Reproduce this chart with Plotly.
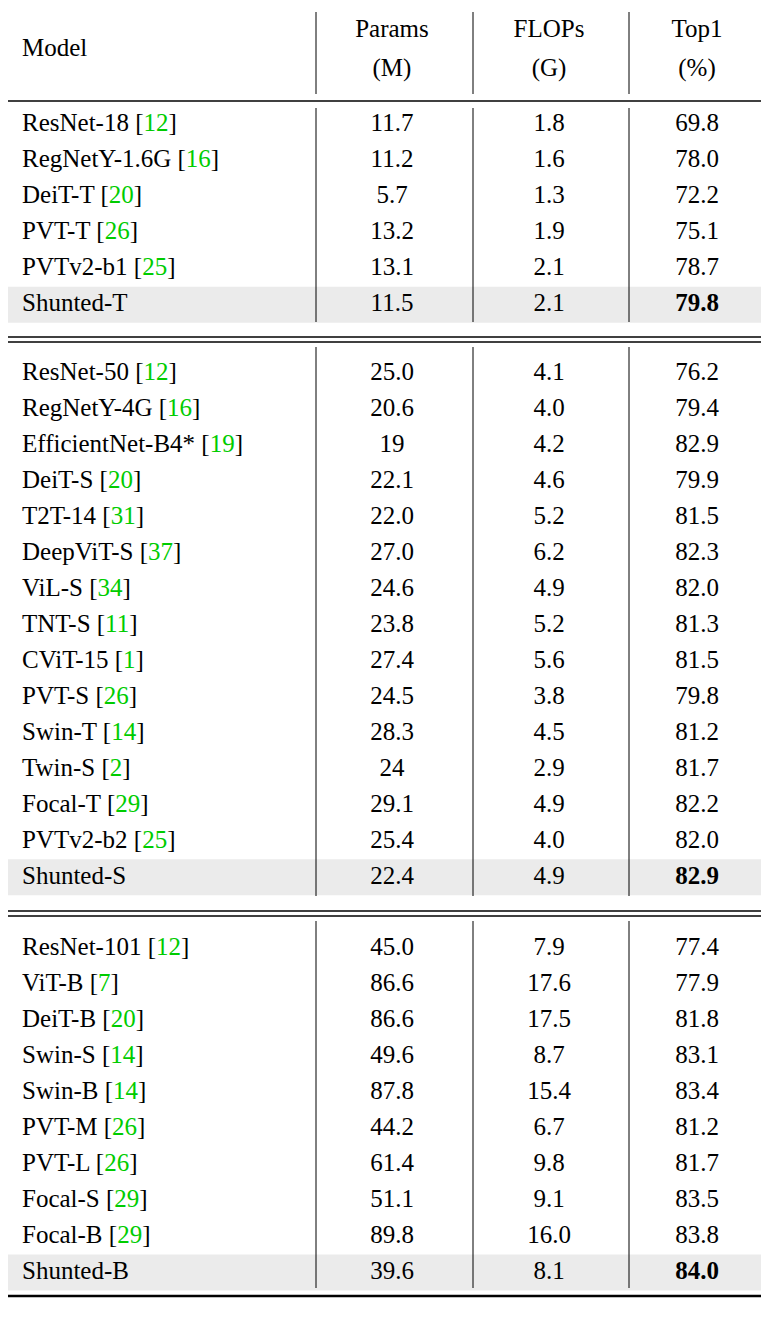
import plotly.graph_objects as go

G = "#00cc00"
models = [
 ["ResNet-18", "12"], ["RegNetY-1.6G", "16"], ["DeiT-T", "20"], ["PVT-T", "26"], ["PVTv2-b1", "25"], ["Shunted-T", None],
 ["ResNet-50", "12"], ["RegNetY-4G", "16"], ["EfficientNet-B4*", "19"], ["DeiT-S", "20"], ["T2T-14", "31"],
 ["DeepViT-S", "37"], ["ViL-S", "34"], ["TNT-S", "11"], ["CViT-15", "1"], ["PVT-S", "26"], ["Swin-T", "14"],
 ["Twin-S", "2"], ["Focal-T", "29"], ["PVTv2-b2", "25"], ["Shunted-S", None],
 ["ResNet-101", "12"], ["ViT-B", "7"], ["DeiT-B", "20"], ["Swin-S", "14"], ["Swin-B", "14"], ["PVT-M", "26"],
 ["PVT-L", "26"], ["Focal-S", "29"], ["Focal-B", "29"], ["Shunted-B", None],
]
params = ["11.7","11.2","5.7","13.2","13.1","11.5",
          "25.0","20.6","19","22.1","22.0","27.0","24.6","23.8","27.4","24.5","28.3","24","29.1","25.4","22.4",
          "45.0","86.6","86.6","49.6","87.8","44.2","61.4","51.1","89.8","39.6"]
flops = ["1.8","1.6","1.3","1.9","2.1","2.1",
         "4.1","4.0","4.2","4.6","5.2","6.2","4.9","5.2","5.6","3.8","4.5","2.9","4.9","4.0","4.9",
         "7.9","17.6","17.5","8.7","15.4","6.7","9.8","9.1","16.0","8.1"]
top1 = ["69.8","78.0","72.2","75.1","78.7","79.8",
        "76.2","79.4","82.9","79.9","81.5","82.3","82.0","81.3","81.5","79.8","81.2","81.7","82.2","82.0","82.9",
        "77.4","77.9","81.8","83.1","83.4","81.2","81.7","83.5","83.8","84.0"]
sections = [6, 15, 10]
section_starts = [125, 374, 949]
STEP = 35.95

ys = []
for n, s in zip(sections, section_starts):
    ys += [s + i * STEP for i in range(n)]

def mlabel(m):
    name, ref = m
    return name if ref is None else f"{name} [<span style='color:{G}'>{ref}</span>]"

fig = go.Figure()
font = dict(family="Liberation Serif", size=25, color="black")
shapes = []
for i, m in enumerate(models):
    if m[1] is None:
        shapes.append(dict(type="rect", x0=0, x1=766, y0=ys[i]-18, y1=ys[i]+18,
                           fillcolor="#ebebeb", line_width=0, layer="below"))
fig.add_trace(go.Scatter(x=[22]*len(models), y=ys, text=[mlabel(m) for m in models], mode="text",
                         textposition="middle right", textfont=font, hoverinfo="skip"))
for xc, col in [(392, params), (549, flops), (697, top1)]:
    txt = [f"<b>{v}</b>" if (xc == 697 and models[i][1] is None) else v for i, v in enumerate(col)]
    fig.add_trace(go.Scatter(x=[xc]*len(col), y=ys, text=txt, mode="text", textposition="middle center",
                             textfont=font, hoverinfo="skip"))
fig.add_trace(go.Scatter(x=[22, 392, 392, 549, 549, 697, 697], y=[50, 31, 70, 31, 70, 31, 70],
                         text=["Model", "Params", "(M)", "FLOPs", "(G)", "Top1", "(%)"], mode="text",
                         textposition=["middle right"] + ["middle center"]*6, textfont=font, hoverinfo="skip"))
def hl(y, w):
    shapes.append(dict(type="line", x0=0, x1=766, y0=y, y1=y, line=dict(color="black", width=w)))
hl(2, 2.5); hl(101, 1.3); hl(337, 1.3); hl(342, 1.3); hl(911, 1.3); hl(916, 1.3); hl(1296, 2.5)
for x in [316, 473, 629]:
    for a, b in [(12, 94), (108, 322), (347, 896), (921, 1288)]:
        shapes.append(dict(type="line", x0=x, x1=x, y0=a, y1=b, line=dict(color="black", width=1)))
fig.update_layout(width=761, height=1323, margin=dict(l=0, r=0, t=0, b=0), showlegend=False,
                  plot_bgcolor="white", paper_bgcolor="white", shapes=shapes,
                  xaxis=dict(range=[8, 769], visible=False, fixedrange=True),
                  yaxis=dict(range=[1331, 8], visible=False, fixedrange=True))
fig.write_html("out.html")
